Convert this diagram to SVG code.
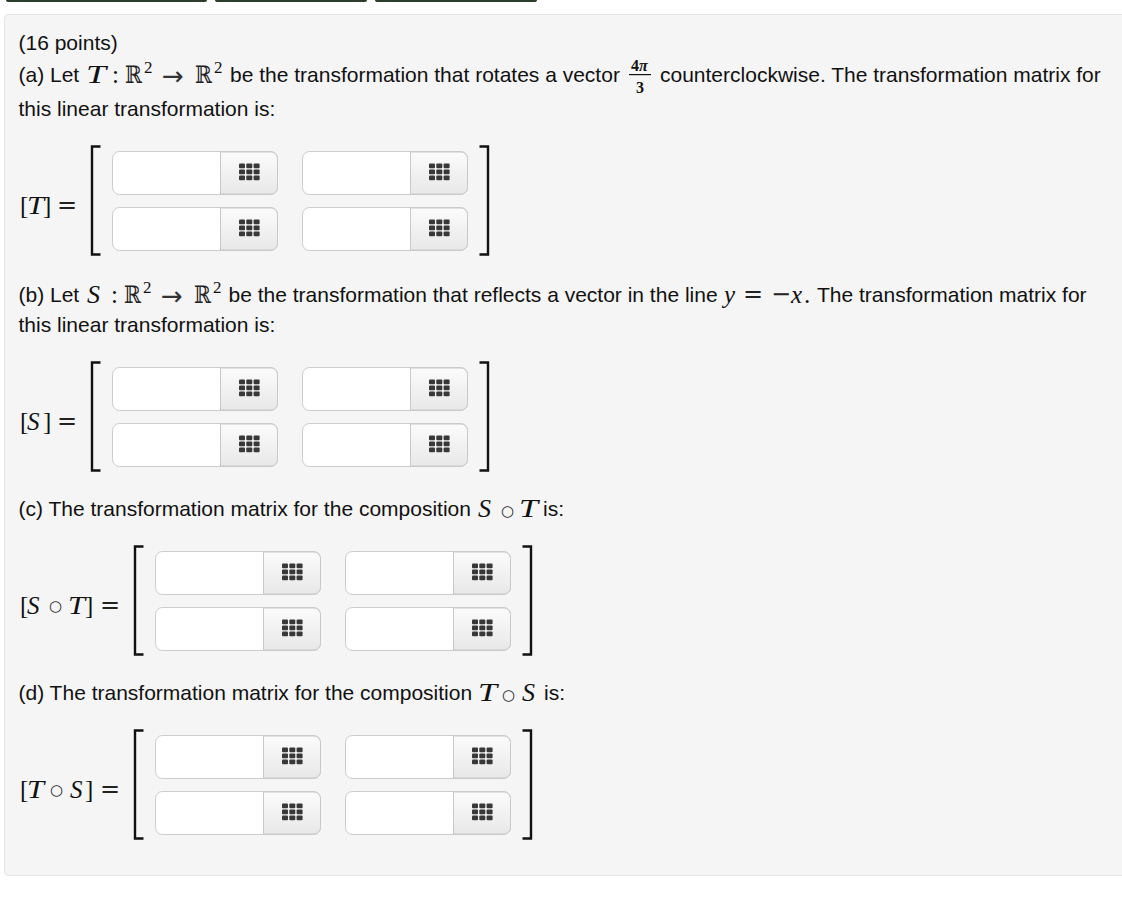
<svg xmlns="http://www.w3.org/2000/svg" width="1122" height="911" viewBox="0 0 1122 911">
<style>
.t{font-family:"Liberation Sans",Arial,sans-serif;font-size:21px;fill:#111}
.m{font-family:"Liberation Serif","Times New Roman",serif;font-size:25px;fill:#111}
.v{font-family:"Liberation Serif","Times New Roman",serif;font-size:26px;font-style:italic;fill:#111}
.d{font-family:"Liberation Serif","Times New Roman",serif;font-size:25px;font-style:italic;fill:#111}
.e{font-family:"DejaVu Sans",sans-serif;font-size:24px;fill:#222}
.a{font-family:"DejaVu Sans",sans-serif;font-size:26px;fill:#333}
.o{font-family:"DejaVu Sans",sans-serif;font-size:15px;fill:#222}
.r{font-family:"DejaVu Serif",serif;font-size:24px;fill:#222}
.s{font-family:"Liberation Serif",serif;font-size:17px;fill:#111}
.f{font-family:"Liberation Serif",serif;font-size:16px;font-weight:bold;fill:#111}
.b{fill:none;stroke:#111;stroke-width:2.4}
</style>
<defs>
<linearGradient id="g" x1="0" y1="0" x2="0" y2="1"><stop offset="0" stop-color="#fbfbfb"/><stop offset="1" stop-color="#e8e8e8"/></linearGradient>
<g id="w">
<rect x="0.500" y="0.500" width="165" height="43" rx="7" fill="#fff" stroke="#ccc"/>
<path d="M108.500 1H159a6.500 6.500 0 0 1 6.500 6.500V36.500a6.500 6.500 0 0 1-6.500 6.500H108.500Z" fill="url(#g)" stroke="#c8c8c8"/>
<g fill="#383838">
<rect x="127" y="12.500" width="6" height="4.800" rx="1"/><rect x="134.300" y="12.500" width="6" height="4.800" rx="1"/><rect x="141.600" y="12.500" width="6" height="4.800" rx="1"/>
<rect x="127" y="18.500" width="6" height="4.800" rx="1"/><rect x="134.300" y="18.500" width="6" height="4.800" rx="1"/><rect x="141.600" y="18.500" width="6" height="4.800" rx="1"/>
<rect x="127" y="24.500" width="6" height="4.800" rx="1"/><rect x="134.300" y="24.500" width="6" height="4.800" rx="1"/><rect x="141.600" y="24.500" width="6" height="4.800" rx="1"/>
</g>
</g>
<g id="mx">
<path class="b" d="M100.500 -4.500H92V103.500H100.500"/>
<path class="b" d="M479.500 -4.500H488V103.500H479.500"/>
<use href="#w" x="112" y="0"/><use href="#w" x="302" y="0"/>
<use href="#w" x="112" y="56"/><use href="#w" x="302" y="56"/>
</g>
</defs>
<rect width="1122" height="911" fill="#fff"/>
<g id="buttons" fill="#2c3e2c">
<path d="M6 0H207V0a3 2 0 0 1-3 2H9a3 2 0 0 1-3-2Z"/>
<path d="M215 0H367V0a3 2 0 0 1-3 2H218a3 2 0 0 1-3-2Z"/>
<path d="M375 0H537V0a3 2 0 0 1-3 2H378a3 2 0 0 1-3-2Z"/>
</g>
<path id="panel" d="M1123 14.500H8.500a4 4 0 0 0-4 4V871.500a4 4 0 0 0 4 4H1123Z" fill="#f5f5f5" stroke="#e3e3e3"/>
<g id="part-a">
<text class="t" x="18.500" y="50">(16 points)</text>
<text class="t" x="18.500" y="82">(a) Let</text>
<text class="v" x="86" y="83" textLength="20" lengthAdjust="spacingAndGlyphs">T</text><text class="m" x="112" y="83">:</text>
<text class="r" x="125" y="83" textLength="17" lengthAdjust="spacingAndGlyphs">ℝ</text><text class="s" x="144" y="73">2</text>
<text class="a" x="162" y="85">→</text>
<text class="r" x="195" y="83" textLength="17" lengthAdjust="spacingAndGlyphs">ℝ</text><text class="s" x="214" y="73">2</text>
<text class="t" x="230" y="82">be the transformation that rotates a vector</text>
<text class="f" x="631" y="71">4<tspan font-style="italic">π</tspan></text>
<rect x="629" y="74" width="22" height="1.200" fill="#111"/>
<text class="f" x="636" y="93">3</text>
<text class="t" x="660" y="82">counterclockwise. The transformation matrix for</text>
<text class="t" x="18.500" y="116">this linear transformation is:</text>
<text class="m" x="20" y="213.500">[</text><text class="d" x="27" y="213.500" textLength="17" lengthAdjust="spacingAndGlyphs">T</text><text class="m" x="43" y="213.500">]</text><text class="e" x="57" y="212.500">=</text>
<use href="#mx" x="0" y="151"/>
</g>
<g id="part-b">
<text class="t" x="18.500" y="302">(b) Let</text>
<text class="v" x="87" y="303">S</text><text class="m" x="111" y="303">:</text>
<text class="r" x="124" y="303" textLength="17" lengthAdjust="spacingAndGlyphs">ℝ</text><text class="s" x="143" y="293">2</text>
<text class="a" x="161" y="305">→</text>
<text class="r" x="194" y="303" textLength="17" lengthAdjust="spacingAndGlyphs">ℝ</text><text class="s" x="213" y="293">2</text>
<text class="t" x="228.500" y="302">be the transformation that reflects a vector in the line</text>
<text class="d" x="724" y="303">y</text><text class="e" x="743" y="302">=</text><text class="e" x="771" y="302">−</text><text class="d" x="791" y="303">x</text><text class="m" x="804" y="303">.</text>
<text class="t" x="817" y="302">The transformation matrix for</text>
<text class="t" x="18.500" y="332">this linear transformation is:</text>
<text class="m" x="20" y="429.500">[</text><text class="d" x="27" y="429.500">S</text><text class="m" x="43" y="429.500">]</text><text class="e" x="57" y="428.500">=</text>
<use href="#mx" x="0" y="367"/>
</g>
<g id="part-c">
<text class="t" x="18.500" y="516">(c) The transformation matrix for the composition</text>
<text class="v" x="478" y="517">S</text><text class="o" x="501" y="516">○</text><text class="v" x="519" y="517" textLength="19" lengthAdjust="spacingAndGlyphs">T</text>
<text class="t" x="543" y="516">is:</text>
<text class="m" x="20" y="613.500">[</text><text class="d" x="27" y="613.500">S</text><text class="o" x="49" y="611">○</text><text class="d" x="68" y="613.500" textLength="17" lengthAdjust="spacingAndGlyphs">T</text><text class="m" x="85" y="613.500">]</text><text class="e" x="100" y="612.500">=</text>
<use href="#mx" x="43" y="551"/>
</g>
<g id="part-d">
<text class="t" x="18.500" y="700">(d) The transformation matrix for the composition</text>
<text class="v" x="478" y="701" textLength="19" lengthAdjust="spacingAndGlyphs">T</text><text class="o" x="502" y="700">○</text><text class="v" x="522" y="701">S</text>
<text class="t" x="544" y="700">is:</text>
<text class="m" x="20" y="797.500">[</text><text class="d" x="27" y="797.500" textLength="17" lengthAdjust="spacingAndGlyphs">T</text><text class="o" x="50" y="795">○</text><text class="d" x="70" y="797.500">S</text><text class="m" x="85" y="797.500">]</text><text class="e" x="100" y="796.500">=</text>
<use href="#mx" x="43" y="735"/>
</g>
</svg>
